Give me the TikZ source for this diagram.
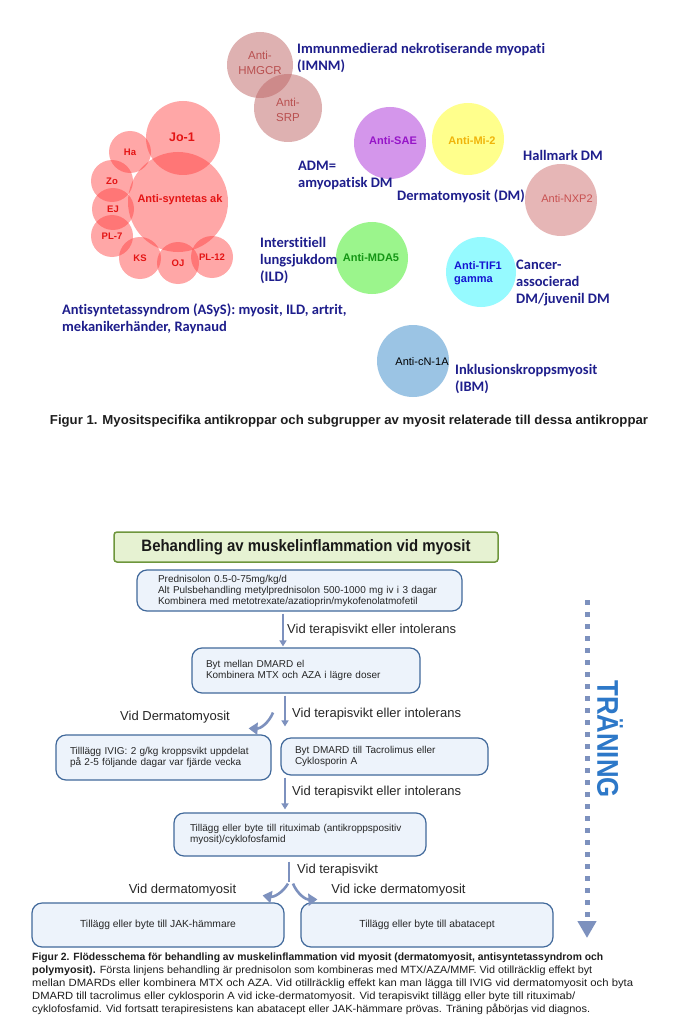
\documentclass[tikz,border=0pt]{standalone}
\usepackage{fontspec}
\setmainfont{Liberation Sans}
\newfontfamily\calib[Ligatures=NoCommon]{Carlito}
\usetikzlibrary{arrows.meta,calc}
\newcommand\fw[2]{\resizebox{#1}{\height}{#2}}
\definecolor{navy}{RGB}{30,30,140}
\definecolor{redc}{RGB}{255,60,60}
\definecolor{redt}{RGB}{228,20,20}
\definecolor{brc}{RGB}{190,100,100}
\definecolor{brt}{RGB}{185,80,80}
\definecolor{saec}{RGB}{212,150,235}
\definecolor{saet}{RGB}{150,20,200}
\definecolor{mic}{RGB}{255,255,140}
\definecolor{mit}{RGB}{240,180,10}
\definecolor{nxpc}{RGB}{230,182,182}
\definecolor{nxpt}{RGB}{200,80,80}
\definecolor{mdac}{RGB}{155,245,140}
\definecolor{mdat}{RGB}{20,150,20}
\definecolor{tifc}{RGB}{150,250,255}
\definecolor{tift}{RGB}{20,20,210}
\definecolor{cnc}{RGB}{155,196,228}
\definecolor{boxfill}{RGB}{237,243,251}
\definecolor{boxdraw}{RGB}{65,105,155}
\definecolor{arrc}{RGB}{125,145,190}
\definecolor{titlefill}{RGB}{230,242,210}
\definecolor{titledraw}{RGB}{110,150,60}
\definecolor{tranc}{RGB}{45,120,200}
\definecolor{captc}{RGB}{30,30,30}
\tikzset{
  circ/.style={circle,inner sep=0pt,minimum size=#1},
  redcirc/.style={circ=#1,fill=redc,fill opacity=.45},
  brcirc/.style={circ=#1,fill=brc,fill opacity=.5},
  rlab/.style={inner sep=0pt,text=redt,font=\bfseries\fontsize{9.5}{11}\selectfont},
  clab/.style={inner sep=0pt,align=center,font=\bfseries\fontsize{11}{13}\selectfont},
  blab/.style={inner sep=0pt,anchor=west,align=left,text=navy,font=\calib\bfseries\fontsize{14.5}{17}\selectfont},
  flowbox/.style={draw=boxdraw,fill=boxfill,line width=1.2pt,rounded corners=10pt,align=left,
     font=\fontsize{10}{11}\selectfont,text=black!85},
  arrlab/.style={inner sep=0pt,font=\fontsize{13}{15}\selectfont,text=black!85},
  arr/.style={draw=arrc,line width=2pt,-{Triangle[width=7pt,length=6pt]}},
  carr/.style={draw=arrc,line width=2.6pt,-{Triangle[width=12pt,length=9pt]}},
  caprow/.style={anchor=west,inner sep=0pt,text=captc,font=\fontsize{10.5}{12}\selectfont}
}
\begin{document}
\begin{tikzpicture}[x=1pt,y=-1pt]
\useasboundingbox (0,0) rectangle (673,1024);
\fill[white] (0,0) rectangle (673,1024);

% ---------- Figure 1: circles ----------
\node[redcirc=100pt] (c-big) at (178,202) {};
\node[redcirc=74pt] (c-jo) at (183,138) {};
\node[redcirc=42pt] (c-ha) at (130,152) {};
\node[redcirc=42pt] (c-zo) at (112,181) {};
\node[redcirc=42pt] (c-ej) at (113,209) {};
\node[redcirc=42pt] (c-pl7) at (112,236) {};
\node[redcirc=42pt] (c-ks) at (140,258) {};
\node[redcirc=42pt] (c-oj) at (178,263) {};
\node[redcirc=42pt] (c-pl12) at (212,257) {};

\node[brcirc=66pt] (c-hmg) at (260,65) {};
\node[brcirc=68pt] (c-srp) at (288,108) {};

\node[circ=72pt,fill=saec] (c-sae) at (390,143) {};
\node[circ=72pt,fill=mic] (c-mi) at (468,139) {};
\node[circ=72pt,fill=nxpc] (c-nxp) at (561,200) {};
\node[circ=72pt,fill=mdac] (c-mda) at (372,258) {};
\node[circ=70pt,fill=tifc] (c-tif) at (481,272) {};
\node[circ=72pt,fill=cnc] (c-cn) at (413,361) {};

% circle labels
\node[rlab,font=\bfseries\fontsize{12.5}{14}\selectfont] (l-jo) at (182,137) {Jo-1};
\node[rlab,font=\bfseries\fontsize{11}{13}\selectfont] (l-big) at (180,200) {Anti-syntetas ak};
\node[rlab] (l-ha) at (130,152) {Ha};
\node[rlab] (l-zo) at (112,181) {Zo};
\node[rlab] (l-ej) at (113,209) {EJ};
\node[rlab] (l-pl7) at (112,236) {PL-7};
\node[rlab] (l-ks) at (140,258) {KS};
\node[rlab] (l-oj) at (178,263) {OJ};
\node[rlab] (l-pl12) at (212,257) {PL-12};

\node[clab,text=brt,font=\fontsize{11.5}{15}\selectfont] (l-hmg) at (260,63) {Anti-\\HMGCR};
\node[clab,text=brt,font=\fontsize{11.5}{15}\selectfont] (l-srp) at (288,110) {Anti-\\SRP};
\node[clab,text=saet] (l-sae) at (393,141) {Anti-SAE};
\node[clab,text=mit] (l-mi) at (472,141) {Anti-Mi-2};
\node[clab,text=nxpt,font=\fontsize{11}{13}\selectfont] (l-nxp) at (567,199) {Anti-NXP2};
\node[clab,text=mdat] (l-mda) at (371,258) {Anti-MDA5};
\node[clab,text=tift,align=left] (l-tif) at (478,273) {Anti-TIF1\\gamma};
\node[clab,text=black,font=\fontsize{11}{13}\selectfont] (l-cn) at (422,362) {Anti-cN-1A};

% blue labels
\node[blab] (t-imnm) at (297,58.5) {Immunmedierad nekrotiserande myopati\\(IMNM)};
\node[blab] (t-adm) at (298,175.5) {ADM=\\amyopatisk DM};
\node[blab] (t-hall) at (523,155) {Hallmark DM};
\node[blab] (t-dm) at (397,196) {Dermatomyosit (DM)};
\node[blab] (t-ild) at (260,260.5) {Interstitiell\\lungsjukdom\\(ILD)};
\node[blab] (t-canc) at (516,283) {Cancer-\\associerad\\DM/juvenil DM};
\node[blab] (t-ibm) at (455,379.5) {Inklusionskroppsmyosit\\(IBM)};
\node[blab] (t-asys) at (62,319) {Antisyntetassyndrom (ASyS): myosit, ILD, artrit,\\mekanikerhänder, Raynaud};

\node[inner sep=0pt,text=captc,font=\fontsize{13}{15}\selectfont] (cap-f1) at (349,421)
  {\fw{598pt}{\bfseries Figur 1. Myositspecifika antikroppar och subgrupper av myosit relaterade till dessa antikroppar}};

% ---------- Figure 2: flowchart ----------
\node[draw=titledraw,fill=titlefill,line width=1.5pt,rounded corners=3pt,minimum width=384pt,minimum height=30pt,
  font=\fontsize{16.5}{18}\selectfont,text=black!90] (title) at (306,547)
  {\fw{329pt}{\bfseries Behandling av muskelinflammation vid myosit}};

\node[flowbox,minimum height=41pt,inner xsep=21pt,text width=283pt] (b1) at (299.5,590.5)
  {Prednisolon 0.5-0-75mg/kg/d\\Alt Pulsbehandling metylprednisolon 500-1000 mg iv i 3 dagar\\Kombinera med metotrexate/azatioprin/mykofenolatmofetil};
\node[flowbox,minimum height=45pt,inner xsep=14pt,text width=200pt] (b2) at (306,670.5)
  {Byt mellan DMARD el\\Kombinera MTX och AZA i lägre doser};
\node[flowbox,minimum height=45pt,inner xsep=14pt,text width=187pt] (b3) at (163.5,757.5)
  {Tilllägg IVIG: 2 g/kg kroppsvikt uppdelat\\på 2-5 följande dagar var fjärde vecka};
\node[flowbox,minimum height=37pt,inner xsep=14pt,text width=179pt] (b4) at (384.5,756.5)
  {Byt DMARD till Tacrolimus eller\\Cyklosporin A};
\node[flowbox,minimum height=43pt,inner xsep=16pt,text width=220pt] (b5) at (300,834.5)
  {Tillägg eller byte till rituximab (antikroppspositiv\\myosit)/cyklofosfamid};
\node[flowbox,minimum height=44pt,minimum width=252pt,align=center,font=\fontsize{10.3}{12}\selectfont] (b6) at (158,925)
  {Tillägg eller byte till JAK-hämmare};
\node[flowbox,minimum height=44pt,minimum width=252pt,align=center,font=\fontsize{10.3}{12}\selectfont] (b7) at (427,925)
  {Tillägg eller byte till abatacept};

\coordinate (ax1) at (283,0);
\coordinate (ax2) at (285,0);
\draw[arr] ($(b1.south -| ax1)+(0,2)$) -- ($(b2.north -| ax1)+(0,-1)$);
\draw[arr] ($(b2.south -| ax2)+(0,2)$) -- ($(b4.north -| ax2)+(0,-11)$);
\draw[arr] ($(b4.south -| ax2)+(0,2)$) -- ($(b5.north -| ax2)+(0,-3)$);
\draw[carr] ($(b2.south)+(-33,19)$) to[bend left=35] ($(b3.north east)+(-23,-6)$);

\coordinate (split) at ($(b5.south)+(-11,25)$);
\draw[draw=arrc,line width=2.4pt] ($(b5.south)+(-11,5)$) -- (split);
\draw[carr] ($(split)+(-1,2)$) to[bend left=35] ($(b6.north east)+(-22,-7)$);
\draw[carr] ($(split)+(4,2)$) to[bend right=35] ($(b7.north west)+(17,-3)$);

\node[arrlab,anchor=west] (lab1) at (287,630) {Vid terapisvikt eller intolerans};
\node[arrlab,anchor=west] (lab2) at (292,714) {Vid terapisvikt eller intolerans};
\node[arrlab,anchor=west] (lab3) at (292,792) {Vid terapisvikt eller intolerans};
\node[arrlab] (lab-dm) at (175,717) {Vid Dermatomyosit};
\node[arrlab,anchor=west] (lab4) at (297,870) {Vid terapisvikt};
\node[arrlab] (lab-dm2) at (182.5,890) {Vid dermatomyosit};
\node[arrlab] (lab-idm) at (398.5,890) {Vid icke dermatomyosit};

% Training arrow
\coordinate (tr0) at (587,600);
\coordinate (tr1) at (587,938);
\draw[draw=arrc,line width=5pt,dash pattern=on 5pt off 7pt,-{Triangle[width=18pt,length=17pt]}] (tr0) -- (tr1);
\node[inner sep=0pt,rotate=-90,text=tranc,font=\bfseries\fontsize{30}{32}\selectfont] (tran) at (610,739)
  {\scalebox{0.86}[1]{TRÄNING}};

% caption
\node[caprow] (cap1) at (32,958) {\fw{571pt}{\bfseries Figur 2. Flödesschema för behandling av muskelinflammation vid myosit (dermatomyosit, antisyntetassyndrom och}};
\node[caprow] (cap2) at (32,970.8) {\fw{560pt}{\textbf{polymyosit).} Första linjens behandling är prednisolon som kombineras med MTX/AZA/MMF. Vid otillräcklig effekt byt}};
\node[caprow] (cap3) at (32,983.6) {\fw{601pt}{mellan DMARDs eller kombinera MTX och AZA. Vid otillräcklig effekt kan man lägga till IVIG vid dermatomyosit och byta}};
\node[caprow] (cap4) at (32,996.4) {\fw{543pt}{DMARD till tacrolimus eller cyklosporin A vid icke-dermatomyosit. Vid terapisvikt tillägg eller byte till rituximab/}};
\node[caprow] (cap5) at (32,1009.2) {\fw{558pt}{cyklofosfamid. Vid fortsatt terapiresistens kan abatacept eller JAK-hämmare prövas. Träning påbörjas vid diagnos.}};
\end{tikzpicture}
\end{document}
